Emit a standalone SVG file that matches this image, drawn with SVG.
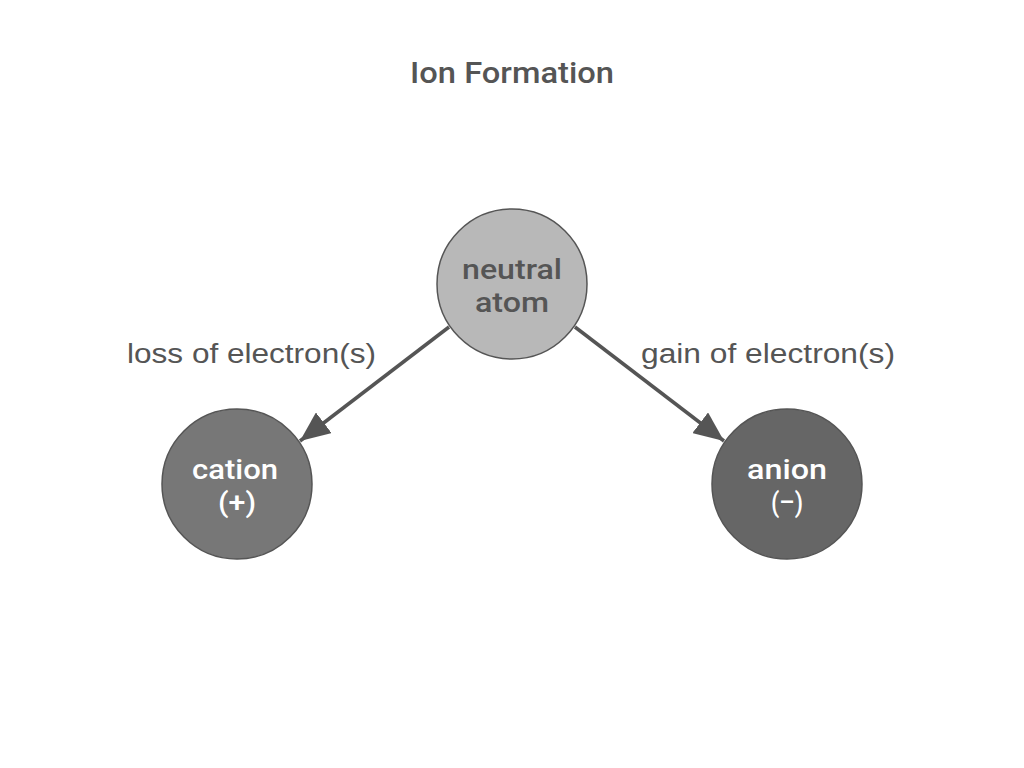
<svg xmlns="http://www.w3.org/2000/svg" width="1024" height="768" viewBox="0 0 1024 768">
<defs>
<style>
.t{font-family:"Liberation Sans",Arial,sans-serif;}
.b{font-family:Roboto,"Liberation Sans",Arial,sans-serif;font-weight:500;}
.title{font-size:29px;fill:#555;}
.lbl{font-size:27px;fill:#555;}
.nt{font-size:28px;}
.edge{stroke:#555;stroke-width:3.5;fill:none;}
.node{stroke:#555;stroke-width:1.5;}
</style>
<marker id="arr" viewBox="0 0 30 26" refX="30" refY="13" markerWidth="30" markerHeight="26" markerUnits="userSpaceOnUse" orient="auto">
<path d="M0,0 L30,13 L0,26 z" fill="#555"/>
</marker>
</defs>
<rect width="1024" height="768" fill="#fff"/>
<text class="b title" x="512" y="83" text-anchor="middle" textLength="204" lengthAdjust="spacingAndGlyphs">Ion Formation</text>
<g id="connectors">
<line class="edge" x1="449" y1="327" x2="300" y2="441" marker-end="url(#arr)"/>
<line class="edge" x1="575" y1="327" x2="724" y2="441" marker-end="url(#arr)"/>
<text class="t lbl" x="251.5" y="363" text-anchor="middle" textLength="249" lengthAdjust="spacingAndGlyphs">loss of electron(s)</text>
<text class="t lbl" x="768" y="363" text-anchor="middle" textLength="254" lengthAdjust="spacingAndGlyphs">gain of electron(s)</text>
</g>
<g id="neutral">
<circle class="node" cx="512" cy="284" r="75" fill="#b8b8b8"/>
<text class="b nt" x="512" y="279" text-anchor="middle" fill="#555" textLength="100" lengthAdjust="spacingAndGlyphs">neutral</text>
<text class="b nt" x="512" y="312" text-anchor="middle" fill="#555" textLength="74" lengthAdjust="spacingAndGlyphs">atom</text>
</g>
<g id="cation">
<circle class="node" cx="237" cy="484" r="75" fill="#777"/>
<text class="b nt" x="235" y="479" text-anchor="middle" fill="#fff" textLength="86" lengthAdjust="spacingAndGlyphs">cation</text>
<text class="b nt" x="237" y="512" text-anchor="middle" fill="#fff" textLength="38" lengthAdjust="spacingAndGlyphs">(+)</text>
</g>
<g id="anion">
<circle class="node" cx="787" cy="484" r="75" fill="#666"/>
<text class="b nt" x="787" y="479" text-anchor="middle" fill="#fff" textLength="80" lengthAdjust="spacingAndGlyphs">anion</text>
<text class="b nt" x="787" y="512" text-anchor="middle" fill="#fff" textLength="32" lengthAdjust="spacingAndGlyphs">(–)</text>
</g>
</svg>
